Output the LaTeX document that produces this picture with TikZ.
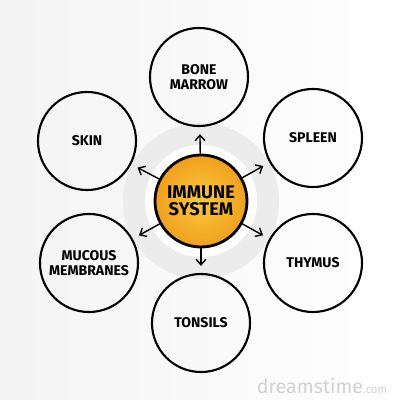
\documentclass[tikz,border=0pt]{standalone}
\usepackage{fontspec}
\setmainfont{Fira Sans}
\usepackage{xcolor}
\usetikzlibrary{arrows.meta}
\definecolor{hubOrange}{HTML}{F0A01C}
\definecolor{hubYellow}{HTML}{FBC93C}
\definecolor{ringGray}{HTML}{ECECEC}
\tikzset{
	organ/.style={circle, draw=black, line width=1.5pt, minimum size=2.45cm, inner sep=0pt, align=center, font=\fontsize{10}{10.5}\selectfont\bfseries},
	hub/.style={circle, draw=black, line width=2pt, minimum size=2.3cm, inner sep=0pt, align=center, inner color=hubYellow, outer color=hubOrange, font=\fontsize{13}{12.5}\selectfont\bfseries},
	ptr/.style={-{Straight Barb[length=4pt,width=7pt]}, line width=1pt, shorten >=5pt}
}

\begin{document}
\begin{tikzpicture}[x=0.025cm, y=-0.025cm]
	\useasboundingbox (0, 0) rectangle (400, 400);
	\shade[left color=gray!9, right color=white] (0, 0) rectangle (400, 400);
	% faint ring behind the hub
	\fill[ringGray] (201, 201) circle[radius=1.95cm];
	\fill[white] (201, 201) circle[radius=1.4cm];
	\node[hub] (immune) at (201, 201) {IMMUNE\\SYSTEM};
	\node[organ] (bone) at (199, 77) {BONE\\MARROW};
	\node[organ] (spleen) at (313, 138) {SPLEEN};
	\node[organ] (thymus) at (313, 263) {THYMUS};
	\node[organ] (tonsils) at (201, 323) {TONSILS};
	\node[organ] (mucous) at (89, 263) {MUCOUS\\MEMBRANES};
	\node[organ] (skin) at (87, 141) {SKIN};
	\foreach \o in {bone, spleen, thymus, tonsils, mucous, skin}
		\draw[ptr] (immune) -- (\o);
	\node[text=gray!35, font=\fontsize{14}{14}\selectfont] (mark) at (322, 386) {dreamstime\fontsize{8}{8}\selectfont.com};
\end{tikzpicture}
\end{document}
